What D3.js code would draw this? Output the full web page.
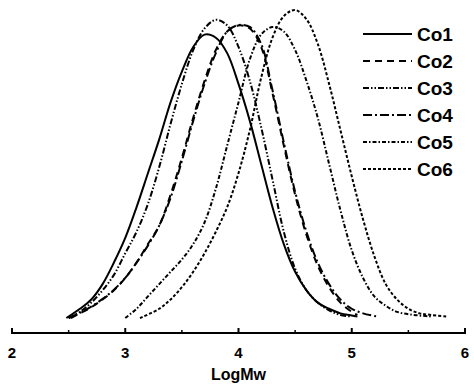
<!DOCTYPE html>
<html>
<head>
<meta charset="utf-8">
<script src="https://cdn.jsdelivr.net/npm/d3@7"></script>
<style>
  body { margin: 0; background: #fff; }
  svg { display: block; font-family: "Liberation Sans", Arial, sans-serif; }
</style>
</head>
<body>
<svg id="chart"></svg>
<script>
// series names and their dash patterns
const seriesNames = ["Co1", "Co2", "Co3", "Co4", "Co5", "Co6"];
const dashes = ["none", "7,5", "6,2,1.5,2,1.5,2", "9,3,2,3", "4,2,1.5,2", "3,2"];

// [LogMw, normalised intensity]
const co1 = [[2.48,0],[2.6,0.03],[2.7,0.06],[2.8,0.11],[2.9,0.18],[3.0,0.26],[3.1,0.36],[3.2,0.47],[3.3,0.58],[3.4,0.70],[3.5,0.80],[3.6,0.88],[3.7,0.92],[3.8,0.91],[3.9,0.86],[4.0,0.76],[4.1,0.64],[4.2,0.50],[4.3,0.36],[4.4,0.24],[4.5,0.15],[4.6,0.09],[4.7,0.05],[4.8,0.03],[4.9,0.015],[5.0,0.008],[5.05,0.005]];
const co2 = [[2.52,0],[2.6,0.015],[2.7,0.035],[2.8,0.06],[2.9,0.09],[3.0,0.13],[3.1,0.18],[3.2,0.24],[3.3,0.30],[3.4,0.40],[3.5,0.52],[3.6,0.65],[3.7,0.77],[3.8,0.87],[3.9,0.93],[4.0,0.95],[4.1,0.94],[4.2,0.88],[4.3,0.73],[4.4,0.56],[4.5,0.40],[4.6,0.27],[4.7,0.17],[4.8,0.10],[4.9,0.05],[5.0,0.02],[5.05,0.01]];
const co3 = [[2.5,0],[2.6,0.02],[2.7,0.05],[2.8,0.09],[2.9,0.14],[3.0,0.21],[3.1,0.28],[3.2,0.37],[3.3,0.49],[3.4,0.63],[3.5,0.76],[3.6,0.87],[3.7,0.94],[3.8,0.968],[3.9,0.95],[4.0,0.88],[4.1,0.77],[4.2,0.62],[4.3,0.45],[4.4,0.28],[4.5,0.16],[4.6,0.09],[4.7,0.05],[4.8,0.025],[4.9,0.01],[5.0,0.005]];
const co4 = [[2.5,0],[2.6,0.017],[2.7,0.037],[2.8,0.062],[2.9,0.092],[3.0,0.13],[3.1,0.18],[3.2,0.235],[3.3,0.30],[3.4,0.39],[3.5,0.51],[3.6,0.64],[3.7,0.76],[3.8,0.86],[3.9,0.93],[4.0,0.951],[4.1,0.945],[4.2,0.89],[4.3,0.74],[4.4,0.57],[4.5,0.41],[4.6,0.28],[4.7,0.18],[4.8,0.11],[4.9,0.06],[5.0,0.03],[5.1,0.015],[5.22,0.005]];
const co5 = [[3.0,0],[3.1,0.03],[3.2,0.07],[3.3,0.11],[3.4,0.15],[3.5,0.19],[3.6,0.24],[3.7,0.31],[3.8,0.42],[3.9,0.56],[4.0,0.70],[4.1,0.84],[4.2,0.92],[4.3,0.945],[4.4,0.93],[4.5,0.87],[4.6,0.77],[4.7,0.65],[4.8,0.50],[4.9,0.35],[5.0,0.22],[5.1,0.13],[5.2,0.07],[5.3,0.04],[5.4,0.02],[5.55,0.01],[5.7,0.005]];
const co6 = [[3.13,0],[3.3,0.03],[3.4,0.06],[3.5,0.10],[3.6,0.15],[3.7,0.21],[3.8,0.28],[3.9,0.36],[4.0,0.47],[4.1,0.61],[4.2,0.78],[4.3,0.91],[4.4,0.98],[4.5,1.0],[4.6,0.97],[4.7,0.89],[4.8,0.76],[4.9,0.61],[5.0,0.46],[5.1,0.32],[5.2,0.20],[5.3,0.11],[5.4,0.06],[5.5,0.03],[5.6,0.015],[5.7,0.01],[5.84,0.005]];
const seriesData = [co1, co2, co3, co4, co5, co6];

const xTicks = [2, 3, 4, 5, 6];
const xMinorTicks = [2.5, 3.5, 4.5, 5.5];

const svgWidth = 474, svgHeight = 387;
const svg = d3.select("#chart").attr("width", svgWidth).attr("height", svgHeight);

const x = d3.scaleLinear().domain([2, 6]).range([12, 465]);
const y = d3.scaleLinear().domain([0, 1]).range([318, 10]);
const axisY = 333;

const line = d3.line()
  .x(d => x(d[0]))
  .y(d => y(d[1]))
  .curve(d3.curveCatmullRom.alpha(0.5));

// curves
seriesData.forEach((s, i) => {
  svg.append("path").datum(s)
    .attr("fill", "none")
    .attr("stroke", "#000")
    .attr("stroke-width", 2)
    .attr("stroke-dasharray", dashes[i])
    .attr("d", line);
});

// bottom axis
const gx = svg.append("g").attr("transform", `translate(0,${axisY})`);
gx.append("line")
  .attr("x1", x(2)).attr("x2", x(6))
  .attr("stroke", "#000").attr("stroke-width", 2);
gx.selectAll(".major").data(xTicks).join("line")
  .attr("x1", d => x(d)).attr("x2", d => x(d))
  .attr("y1", -5).attr("y2", 1)
  .attr("stroke", "#000").attr("stroke-width", 2);
gx.selectAll(".minor").data(xMinorTicks).join("line")
  .attr("x1", d => x(d)).attr("x2", d => x(d))
  .attr("y1", -3).attr("y2", 1)
  .attr("stroke", "#000").attr("stroke-width", 1.5);
gx.selectAll(".lbl").data(xTicks).join("text")
  .attr("x", d => x(d)).attr("y", 25)
  .attr("text-anchor", "middle")
  .attr("font-size", "15px").attr("font-weight", "bold")
  .text(d => d);

svg.append("text")
  .attr("x", x(4)).attr("y", 380)
  .attr("text-anchor", "middle")
  .attr("font-size", "16px").attr("font-weight", "bold")
  .text("LogMw");

// legend
const legend = svg.append("g");
seriesNames.forEach((name, i) => {
  const ly = 34 + i * 27;
  legend.append("line")
    .attr("x1", 363).attr("x2", 412)
    .attr("y1", ly).attr("y2", ly)
    .attr("stroke", "#000").attr("stroke-width", 2)
    .attr("stroke-dasharray", dashes[i]);
  legend.append("text")
    .attr("x", 417).attr("y", ly + 7)
    .attr("font-size", "19px").attr("font-weight", "bold")
    .text(name);
});
</script>
</body>
</html>
